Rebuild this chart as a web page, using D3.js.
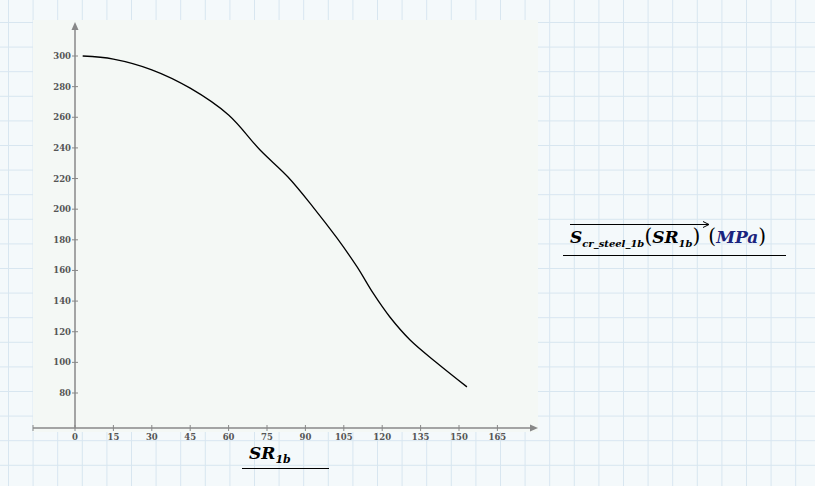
<!DOCTYPE html><html><head><script src="https://d3js.org/d3.v7.min.js"></script>
<style>body{margin:0;background:#f4f9fb}</style></head><body><svg id="c" width="815" height="486"></svg>
<script>
const xTicks=[0,15,30,45,60,75,90,105,120,135,150,165];
const yTicks=[80,100,120,140,160,180,200,220,240,260,280,300];
const sr=[3,15,30,45,60,72.3,83.2,93,102.3,110.2,116.4,123,130.9,141.4,153.1];
const stress=[300,298,291,279,261.5,238.6,221,201.4,181.2,162.3,145.3,129.6,114.6,99.6,84];
const svg=d3.select("#c");
const g0=svg.append("g");
for(let x=8.5;x<815;x+=24.6)g0.append("line").attr("x1",x).attr("x2",x).attr("y1",0).attr("y2",486).attr("stroke","#d8e6f0");
for(let y=22.5;y<486;y+=24.6)g0.append("line").attr("y1",y).attr("y2",y).attr("x1",0).attr("x2",815).attr("stroke","#d8e6f0");
svg.append("rect").attr("x",33).attr("y",20).attr("width",505).attr("height",412).attr("fill","#f4f8f5");
const x=d3.scaleLinear().domain([0,165]).range([75,497.4]);
const y=d3.scaleLinear().domain([80,300]).range([393,56]);
const ax="#888";
svg.append("line").attr("x1",33).attr("x2",532).attr("y1",428).attr("y2",428).attr("stroke",ax).attr("stroke-width",1.5);
svg.append("path").attr("d","M538,428 L530,424.5 L530,431.5Z").attr("fill",ax);
svg.append("line").attr("x1",33).attr("x2",33).attr("y1",425).attr("y2",431).attr("stroke",ax);
svg.append("line").attr("x1",75).attr("x2",75).attr("y1",428).attr("y2",28).attr("stroke",ax).attr("stroke-width",1.5);
svg.append("path").attr("d","M75,22 L71.5,30 L78.5,30Z").attr("fill",ax);
const lab={"font-family":"DejaVu Serif","font-size":"8.5px","fill":"#555","font-weight":"bold"};
xTicks.forEach(t=>{svg.append("line").attr("x1",x(t)).attr("x2",x(t)).attr("y1",425).attr("y2",431).attr("stroke",ax);
 const e=svg.append("text").attr("x",x(t)).attr("y",440).attr("text-anchor","middle").text(t);for(const k in lab)e.style(k,lab[k]);});
yTicks.forEach(t=>{svg.append("line").attr("x1",72).attr("x2",78).attr("y1",y(t)).attr("y2",y(t)).attr("stroke",ax);
 const e=svg.append("text").attr("x",71).attr("y",y(t)+3).attr("text-anchor","end").text(t);for(const k in lab)e.style(k,lab[k]);});
svg.append("path").datum(sr.map((d,i)=>[d,stress[i]])).attr("d",d3.line().x(d=>x(d[0])).y(d=>y(d[1])).curve(d3.curveCatmullRom)).attr("fill","none").attr("stroke","#000").attr("stroke-width",1.3);
const F="DejaVu Serif";
const xl=svg.append("text").attr("x",249).attr("y",459).style("font-family",F).style("font-style","italic").style("font-weight","bold").style("font-size","17px");
xl.append("tspan").text("SR");xl.append("tspan").attr("dy",4).style("font-size","11px").text("1b");
svg.append("line").attr("x1",242).attr("x2",329).attr("y1",468.5).attr("y2",468.5).attr("stroke","#000").attr("stroke-width",1.2);
const yl=svg.append("text").attr("x",570).attr("y",243).style("font-family",F).style("font-style","italic").style("font-weight","bold").style("font-size","17px");
yl.append("tspan").text("S");yl.append("tspan").attr("dy",4).style("font-size","10px").text("cr_steel_1b");
yl.append("tspan").attr("dy",-4).style("font-style","normal").style("font-weight","normal").style("font-size","20px").text("(");
yl.append("tspan").text("SR");yl.append("tspan").attr("dy",4).style("font-size","10px").text("1b");
yl.append("tspan").attr("dy",-4).style("font-style","normal").style("font-weight","normal").style("font-size","20px").text(")");
yl.append("tspan").attr("dx",8).style("font-style","normal").style("font-weight","normal").style("font-size","20px").text("(");
yl.append("tspan").style("fill","#1a237e").text("MPa");
yl.append("tspan").style("font-style","normal").style("font-weight","normal").style("font-size","20px").text(")");
svg.append("line").attr("x1",570).attr("x2",709).attr("y1",224.5).attr("y2",224.5).attr("stroke","#000");
svg.append("path").attr("d","M703,221.5 L709,224.5 L703,227.5").attr("fill","none").attr("stroke","#000");
svg.append("line").attr("x1",563).attr("x2",786).attr("y1",255.5).attr("y2",255.5).attr("stroke","#000").attr("stroke-width",1.2);
</script></body></html>
